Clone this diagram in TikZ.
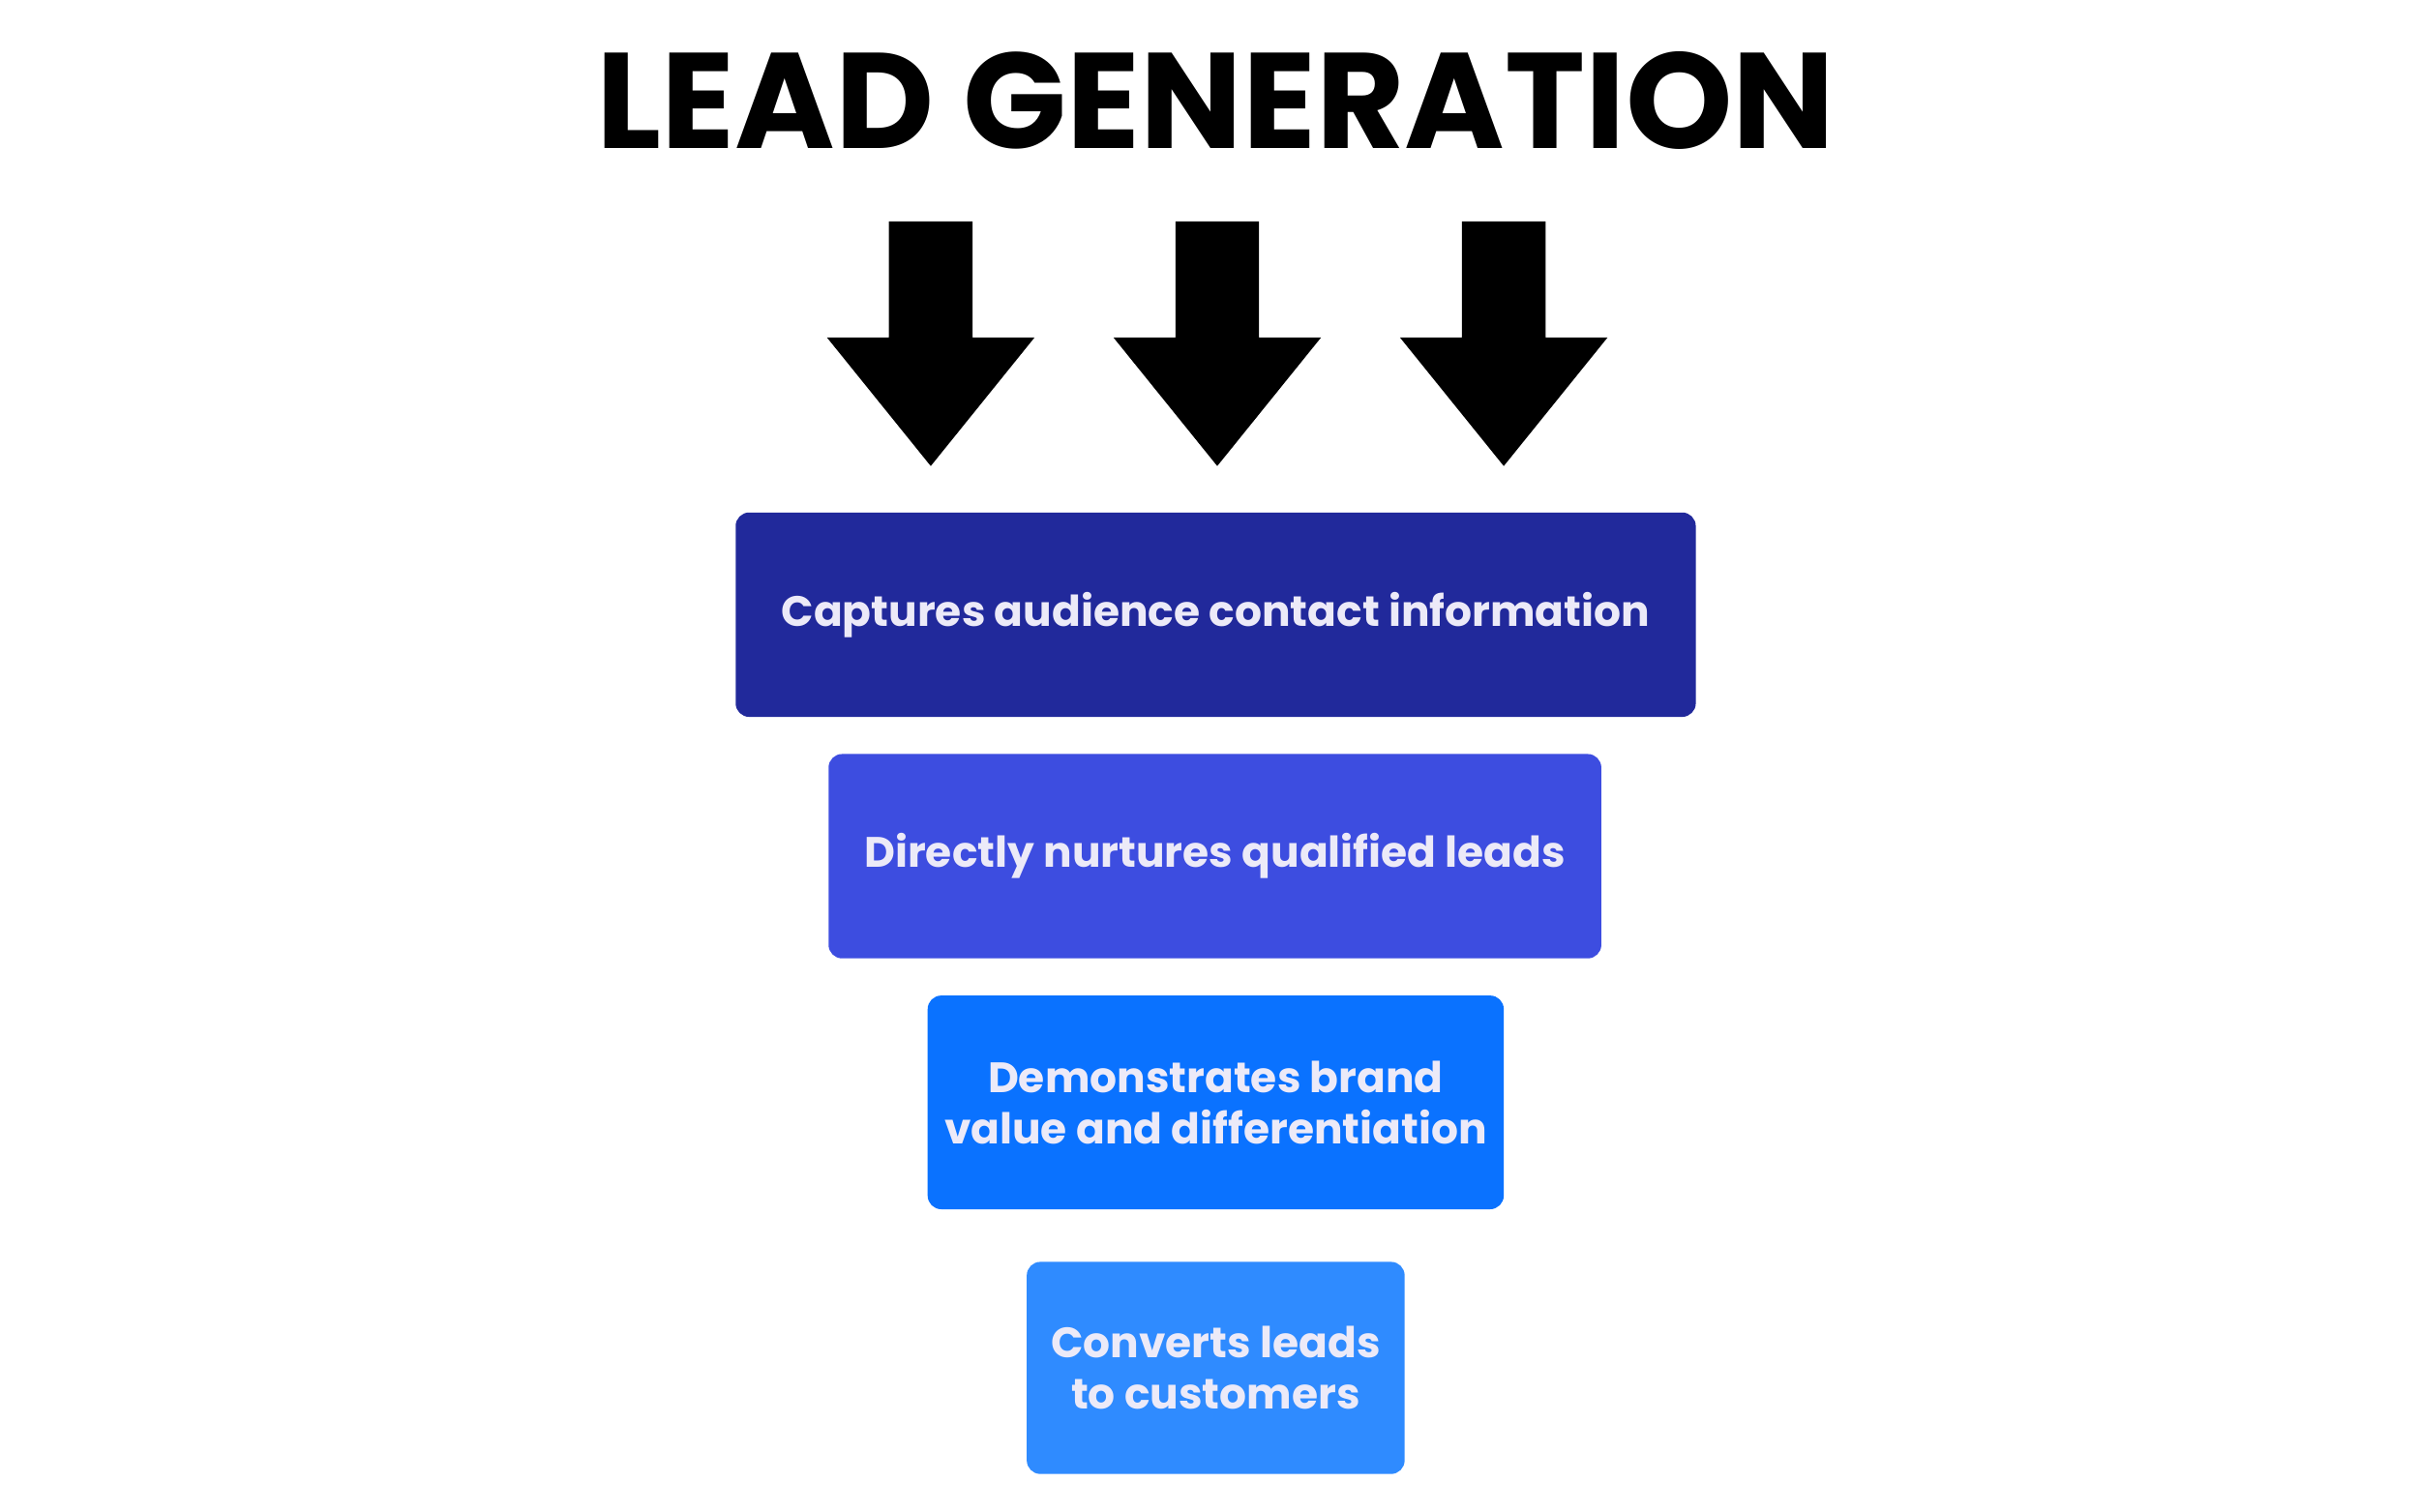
\documentclass[tikz,border=0pt]{standalone}
\usepackage{fontspec}
\setmainfont{Poppins}
\usetikzlibrary{positioning}
\definecolor{stageone}{HTML}{21299B}
\definecolor{stagetwo}{HTML}{3D4DE0}
\definecolor{stagethree}{HTML}{0A72FF}
\definecolor{stagefour}{HTML}{2F8BFF}
\definecolor{stagetext}{HTML}{ECEAF8}
\begin{document}
\begin{tikzpicture}[
    x=0.016cm, y=-0.016cm,
    stage/.style={
        rectangle, rounded corners=4pt, inner sep=0pt,
        align=center, text=stagetext, font=\fontsize{12.5}{15}\selectfont\bfseries
    }
]
\useasboundingbox (0,0) rectangle (1562,976);

% Title
\node[font=\fontsize{40}{44}\selectfont\bfseries] (title) at (785,65) {LEAD GENERATION};

% Three down arrows
\foreach \cx in {601,786,971}
    \fill (\cx-27,143) -- (\cx+27,143) -- (\cx+27,218) -- (\cx+67,218)
        -- (\cx,301) -- (\cx-67,218) -- (\cx-27,218) -- cycle;

% Funnel stages
\node[stage, fill=stageone, minimum width=620*0.016cm, minimum height=132*0.016cm] (capture) at (785,397) {Captures audience contact information};
\node[stage, fill=stagetwo, minimum width=499*0.016cm, minimum height=132*0.016cm] (nurture) at (784.5,553) {Directly nurtures qualified leads};
\node[stage, fill=stagethree, minimum width=372*0.016cm, minimum height=138*0.016cm] (value) at (785,712) {Demonstrates brand\\value and differentiation};
\node[stage, fill=stagefour, minimum width=244*0.016cm, minimum height=137*0.016cm] (convert) at (785,883.5) {Converts leads\\to customers};

\end{tikzpicture}
\end{document}
